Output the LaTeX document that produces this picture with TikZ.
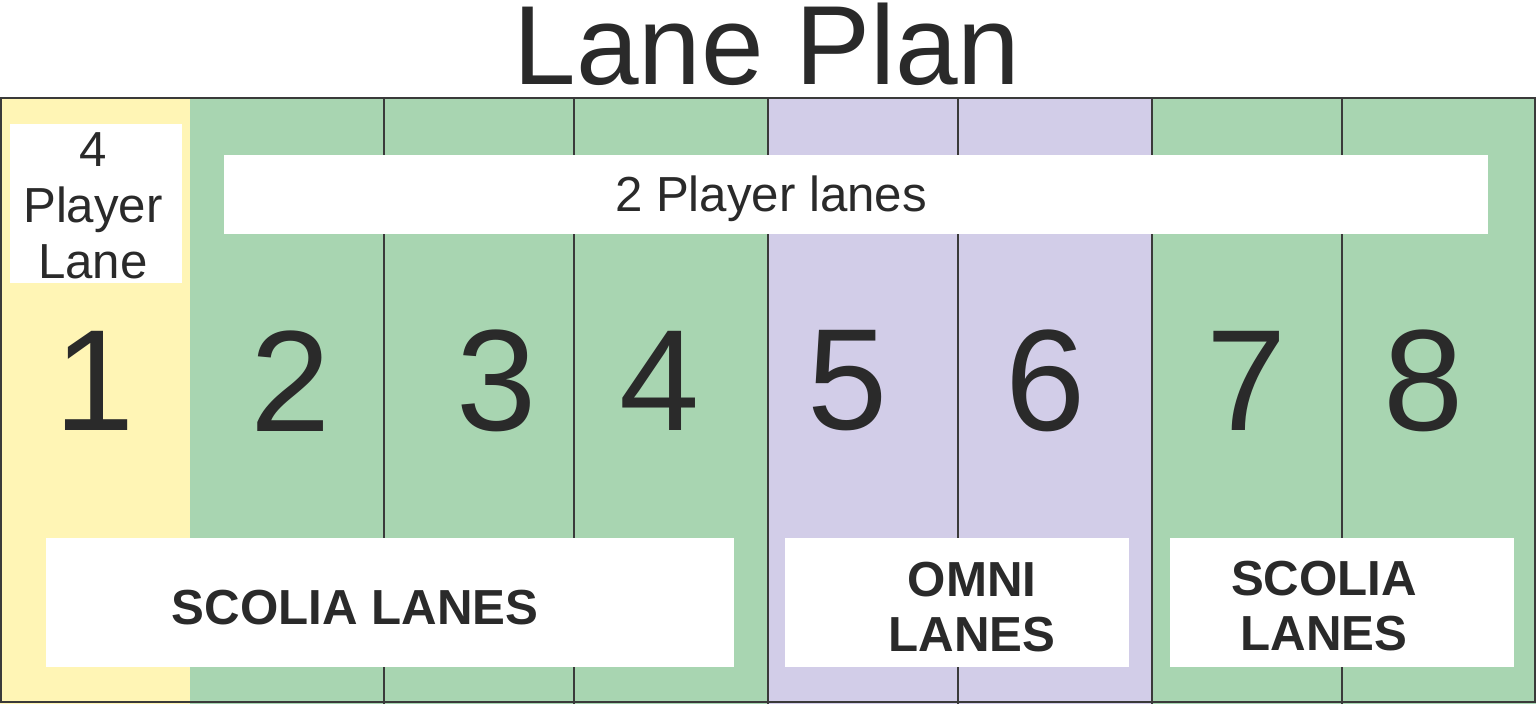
\documentclass[tikz,border=0pt]{standalone}
\usepackage{fontspec}
\setmainfont{Liberation Sans}
\definecolor{laneyellow}{HTML}{FFF5B5}
\definecolor{lanegreen}{HTML}{A8D5B1}
\definecolor{lanepurple}{HTML}{D2CDE8}
\definecolor{laneline}{HTML}{3A3A3A}
\definecolor{lanetext}{HTML}{2A2A2A}
\tikzset{
  labelbox/.style={fill=white, inner sep=0pt},
  lanenum/.style={text=lanetext, font=\fontsize{41}{48}\selectfont},
  boxtext/.style={text=lanetext, align=center, font=\fontsize{14}{16}\selectfont},
  grouptext/.style={text=lanetext, align=center, font=\fontsize{14}{15.6}\selectfont\bfseries}
}
\begin{document}
\begin{tikzpicture}[x=0.01cm,y=-0.01cm]
\useasboundingbox (0,0) rectangle (1536,704);

% Title
\node[text=lanetext, font=\fontsize{32}{38}\selectfont] (title) at (767,44) {Lane Plan};

% Lane fills
\fill[laneyellow] (0,98) rectangle (190,704);
\fill[lanegreen] (190,98) rectangle (768,704);
\fill[lanepurple] (768,98) rectangle (1152,704);
\fill[lanegreen] (1152,98) rectangle (1536,704);

% Lane dividers
\foreach \x in {384,574,958,1342}
  \draw[line width=0.018cm, laneline] (\x,98) -- (\x,704);
\foreach \x in {768,1152}
  \draw[line width=0.025cm, laneline] (\x,98) -- (\x,704);

% Outer frame
\draw[line width=0.025cm, laneline] (1,98) rectangle (1535,702);

% White label boxes
\node[labelbox, minimum width=1.72cm, minimum height=1.59cm] (fourbox) at (96,203.5) {};
\node[labelbox, minimum width=12.64cm, minimum height=0.79cm] (twobox) at (856,194.5) {};
\node[labelbox, minimum width=6.88cm, minimum height=1.29cm] (scoliabox) at (390,602.5) {};
\node[labelbox, minimum width=3.44cm, minimum height=1.29cm] (omnibox) at (957,602.5) {};
\node[labelbox, minimum width=3.44cm, minimum height=1.29cm] (scoliabtwo) at (1342,602.5) {};

% Box texts
\node[boxtext] (fourtext) at (93,206) {4\\Player\\Lane};
\node[boxtext] (twotext) at (771,199) {2 Player lanes};
\node[grouptext] (scoliatext) at (355,608) {SCOLIA LANES};
\node[grouptext] (omnitext) at (972,607) {OMNI\\LANES};
\node[grouptext] (scoliatwotext) at (1324,606) {SCOLIA\\LANES};

% Lane numbers
\foreach \n/\x in {1/95,2/291,3/497,4/660,5/848,6/1046,7/1247,8/1424}
  \node[lanenum] (lane\n) at (\x,381) {\n};
\end{tikzpicture}
\end{document}
